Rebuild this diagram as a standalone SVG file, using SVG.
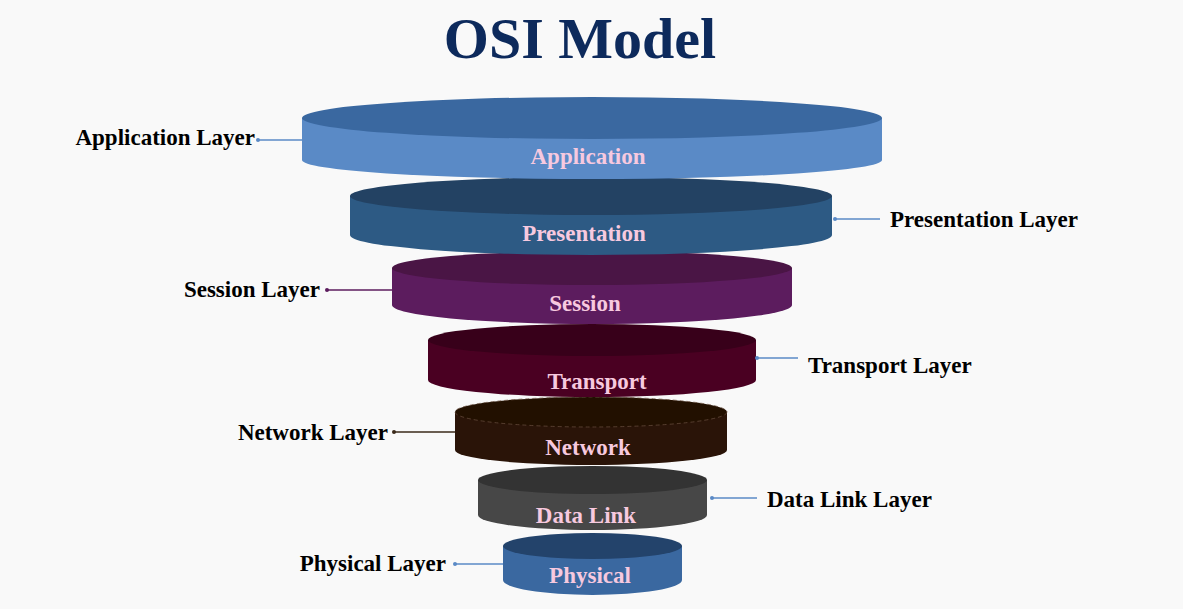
<svg xmlns="http://www.w3.org/2000/svg" width="1183" height="609" viewBox="0 0 1183 609">
<style>
.t{font-family:"Liberation Serif",serif;font-weight:bold}
.in{font-size:23px;fill:#f7c9df;text-anchor:middle}
.lb{font-size:23px;fill:#000}
.c{stroke-width:1.5;fill:none}
</style>
<rect width="1183" height="609" fill="#f9f9f9"/>
<text class="t" x="580" y="58" font-size="58" fill="#0d2a5c" text-anchor="middle">OSI Model</text>
<g id="physical"><path d="M503,546 L503,580 A89.5,15 0 0 0 682,580 L682,546 Z" fill="#3a68a0"/><ellipse cx="592.5" cy="546" rx="89.5" ry="13" fill="#23436b"/><text class="t in" x="590" y="583">Physical</text></g>
<g id="datalink"><path d="M478,480 L478,515 A114.5,15 0 0 0 707,515 L707,480 Z" fill="#474747"/><ellipse cx="592.5" cy="480" rx="114.5" ry="14" fill="#333"/><text class="t in" x="586" y="523">Data Link</text></g>
<g id="network"><path d="M455,412 L455,450 A136,15 0 0 0 727,450 L727,412 Z" fill="#2a1408"/><ellipse cx="591" cy="412" rx="136" ry="15" fill="#221000" stroke="#6a5040" stroke-dasharray="4 3" stroke-width="0.7"/><text class="t in" x="588" y="455">Network</text></g>
<g id="transport"><path d="M428,340 L428,380 A164,17 0 0 0 756,380 L756,340 Z" fill="#4a0022"/><ellipse cx="592" cy="340" rx="164" ry="16" fill="#38001a"/><text class="t in" x="597" y="389">Transport</text></g>
<g id="session"><path d="M392,268 L392,305 A200,19 0 0 0 792,305 L792,268 Z" fill="#5c1c5e"/><ellipse cx="592" cy="268" rx="200" ry="17" fill="#4a1545"/><text class="t in" x="585" y="311">Session</text></g>
<g id="presentation"><path d="M350,196 L350,235 A241,20 0 0 0 832,235 L832,196 Z" fill="#2d5a84"/><ellipse cx="591" cy="196" rx="241" ry="19" fill="#234263"/><text class="t in" x="584" y="241">Presentation</text></g>
<g id="application"><path d="M302,118 L302,160 A290,19 0 0 0 882,160 L882,118 Z" fill="#5a8ac6"/><ellipse cx="592" cy="118" rx="290" ry="21" fill="#3a68a0"/><text class="t in" x="588" y="164">Application</text></g>
<g id="connectors">
<line class="c" x1="258" y1="140" x2="302" y2="140" stroke="#5a8ac6"/><circle cx="258" cy="140" r="2" fill="#5a8ac6"/>
<line class="c" x1="835" y1="219" x2="880" y2="219" stroke="#5a8ac6"/><circle cx="835" cy="219" r="2" fill="#5a8ac6"/>
<line class="c" x1="327" y1="290" x2="392" y2="290" stroke="#5c1c5e"/><circle cx="327" cy="290" r="2" fill="#5c1c5e"/>
<line class="c" x1="757" y1="358" x2="798" y2="358" stroke="#5a8ac6"/><circle cx="757" cy="358" r="2" fill="#5a8ac6"/>
<line class="c" x1="394" y1="432" x2="455" y2="432" stroke="#3a2a1a"/><circle cx="394" cy="432" r="2" fill="#3a2a1a"/>
<line class="c" x1="712" y1="498" x2="757" y2="498" stroke="#5a8ac6"/><circle cx="712" cy="498" r="2" fill="#5a8ac6"/>
<line class="c" x1="455" y1="564" x2="503" y2="564" stroke="#5a8ac6"/><circle cx="455" cy="564" r="2" fill="#5a8ac6"/>
</g>
<g id="labels">
<text class="t lb" x="255" y="145" text-anchor="end">Application Layer</text>
<text class="t lb" x="890" y="227">Presentation Layer</text>
<text class="t lb" x="320" y="297" text-anchor="end">Session Layer</text>
<text class="t lb" x="808" y="373">Transport Layer</text>
<text class="t lb" x="388" y="440" text-anchor="end">Network Layer</text>
<text class="t lb" x="767" y="507">Data Link Layer</text>
<text class="t lb" x="446" y="571" text-anchor="end">Physical Layer</text>
</g>
</svg>
